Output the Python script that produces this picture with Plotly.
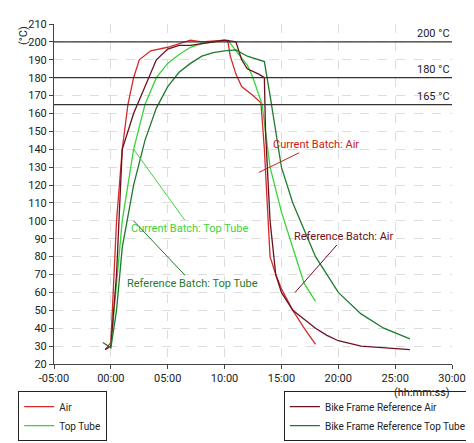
import plotly.graph_objects as go

air_t = [-0.5,0,0.5,1,1.5,2,2.5,3.5,5,6,7,8,10,10.3,10.5,11,11.5,12.5,13.2,13.5,13.8,14,14.5,15,16,17,18]
air_v = [28,32,100,140,165,180,190,195,197,199,201,200,201,200,192,182,175,170,166,140,100,80,70,62,50,40,31]
tube_t = [0,1,2,3,4,5,6,7,8,9,10.3,11,12,12.5,13.3,14,15,16,17,18]
tube_v = [30,100,140,165,180,188,193,197,199,200,201,195,187,180,165,130,105,85,65,55]
rair_t = [-0.5,0,0.5,1,2,3,4,5,6,7,8,10,11,11.5,12,13,13.5,13.6,14,14.5,15,16,17,18,19,20,22,24,26.3]
rair_v = [28,30,70,140,160,175,190,196,198,198,199,201,200,190,185,182,180,150,100,70,60,50,45,40,36,33,30,29,28]
rtube_t = [-0.7,0,0.5,1,2,3,4,5,6,7,8,9,10,11,12,13.5,14,15,16,17,18,20,22,24,26.3]
rtube_v = [32,29,50,85,120,145,163,175,183,188,192,194,195,195.5,192,189,170,130,110,95,80,60,48,40,34]
thresholds = [200,180,165]
xticks = [-5,0,5,10,15,20,25,30]
xlabels = ["-05:00","00:00","05:00","10:00","15:00","20:00","25:00","30:00"]

fig = go.Figure()
fig.add_trace(go.Scatter(x=air_t,y=air_v,mode="lines",name="Air",line=dict(color="#d42a2a",width=1.3),legend="legend"))
fig.add_trace(go.Scatter(x=tube_t,y=tube_v,mode="lines",name="Top Tube",line=dict(color="#3ad43a",width=1.3),legend="legend"))
fig.add_trace(go.Scatter(x=rair_t,y=rair_v,mode="lines",name="Bike Frame Reference Air",line=dict(color="#6e1020",width=1.3),legend="legend2"))
fig.add_trace(go.Scatter(x=rtube_t,y=rtube_v,mode="lines",name="Bike Frame Reference Top Tube",line=dict(color="#1f7a2e",width=1.3),legend="legend2"))

for t in thresholds:
    fig.add_shape(type="line",x0=-5,x1=30,y0=t,y1=t,line=dict(color="#333",width=1.2))
    fig.add_annotation(x=30,y=t,text=f"{t} °C",showarrow=False,xanchor="right",yanchor="bottom",font=dict(size=11,color="#222"))

def lab(text,x,y,ax,ay,color):
    fig.add_annotation(x=x,y=y,ax=ax,ay=ay,axref="x",ayref="y",text=text,showarrow=True,arrowhead=0,
                       arrowcolor=color,arrowwidth=1,font=dict(size=11,color=color),standoff=0)
lab("Current Batch: Air",13.0,127,18.0,142.5,"#c82020")
lab("Current Batch: Top Tube",2.0,140,7.0,96,"#3ad43a")
lab("Reference Batch: Top Tube",2.0,100,7.2,65,"#1f7a2e")
lab("Reference Batch: Air",16.2,60,20.5,91,"#6e1020")
fig.add_annotation(x=30,y=20,text="(hh:mm:ss)",showarrow=False,xanchor="right",yanchor="top",yshift=-20,font=dict(size=11,color="#222"))
fig.add_annotation(x=0,y=1,xref="paper",yref="paper",text="(°C)",textangle=-90,showarrow=False,xanchor="right",yanchor="top",xshift=-22,font=dict(size=11,color="#222"))

fig.update_layout(
    width=474,height=443,plot_bgcolor="white",paper_bgcolor="white",
    margin=dict(l=43,r=24,t=10,b=60),font=dict(family="Roboto",size=11,color="#222"),
    xaxis=dict(range=[-5,30],tickvals=xticks,ticktext=xlabels,showgrid=True,gridcolor="#ddd",griddash="dash",
               showline=True,linecolor="#444",ticks="outside",ticklen=4,zeroline=False),
    yaxis=dict(range=[20,210],dtick=10,showgrid=True,gridcolor="#ddd",griddash="dash",
               showline=True,linecolor="#444",ticks="outside",ticklen=4,zeroline=False),
    legend=dict(x=-0.09,y=-0.08,xanchor="left",yanchor="top",bordercolor="#222",borderwidth=1,font=dict(size=10),
                itemwidth=30,tracegroupgap=0),
    legend2=dict(x=1.05,y=-0.08,xanchor="right",yanchor="top",bordercolor="#222",borderwidth=1,font=dict(size=10),itemwidth=30),
)
fig.write_html("out.html")
